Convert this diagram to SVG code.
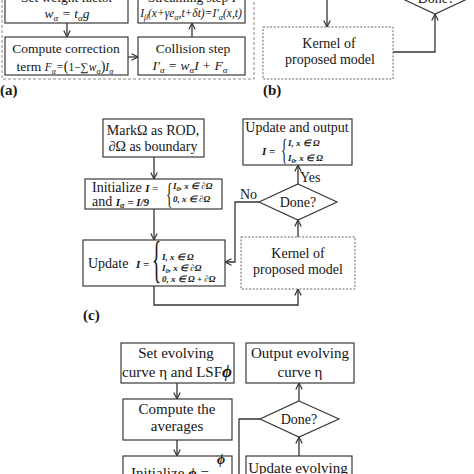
<svg xmlns="http://www.w3.org/2000/svg" width="474" height="474" viewBox="0 0 474 474">
<style>
.bx{fill:#fff;stroke:#3a3a3a;stroke-width:1.2}
.dt{fill:#fff;stroke:#666;stroke-width:1;stroke-dasharray:2 1.6}
.fr{fill:none;stroke:#8a8a8a;stroke-width:1;stroke-dasharray:3 2}
.cn{fill:none;stroke:#333;stroke-width:1.3}
text{font-family:"Liberation Serif","Times New Roman",serif;fill:#161616}
.c{text-anchor:middle}
.a{font-size:13.5px}
.n{font-size:14px}
.d{font-size:15px}
.i{font-style:italic}
.m{font-style:italic;font-weight:bold}
.s{font-size:9px;font-style:italic;font-weight:bold}
.lb{font-size:15px;font-weight:bold}
</style>
<defs>
<marker id="ar" viewBox="0 0 8 8" refX="7.5" refY="4" markerWidth="8" markerHeight="8" markerUnits="userSpaceOnUse" orient="auto">
<path d="M1,0.8 L7.5,4 L1,7.2" fill="none" stroke="#333" stroke-width="1.2"/>
</marker>
</defs>
<rect width="474" height="474" fill="#fff"/>

<!-- (a) frame -->
<rect class="fr" x="2" y="-6" width="252" height="85"/>

<g id="conn" class="cn">
<path d="M67,23 V37" marker-end="url(#ar)"/>
<path d="M128,57 H138" marker-end="url(#ar)"/>
<path d="M192,37 V23" marker-end="url(#ar)"/>
<path d="M327,0 V27" marker-end="url(#ar)"/>
<path d="M393,52 H435 V14" marker-end="url(#ar)"/>
<path d="M154,157 V179" marker-end="url(#ar)"/>
<path d="M154,209 V240" marker-end="url(#ar)"/>
<path d="M154,286 V305 H298 V289" marker-end="url(#ar)"/>
<path d="M298,237 V220" marker-end="url(#ar)"/>
<path d="M298,184 V165" marker-end="url(#ar)"/>
<path d="M259,202 H235 V262 H225" marker-end="url(#ar)"/>
<path d="M177,383 V399" marker-end="url(#ar)"/>
<path d="M177,440 V456" marker-end="url(#ar)"/>
<path d="M299,401 V383" marker-end="url(#ar)"/>
<path d="M299,456 V437" marker-end="url(#ar)"/>
<path d="M260,419 H239 V480"/>
</g>

<!-- (a) -->
<g id="a_weight">
<rect class="bx" x="5" y="-10" width="123" height="33"/>
<text class="a c" x="67" y="2">Set weight factor</text>
<text class="a c i" x="67" y="18">w<tspan font-size="9" dy="3">α</tspan><tspan dy="-3"> =</tspan> t<tspan font-size="9" dy="3">α</tspan><tspan dy="-3">g</tspan></text>
</g>
<g id="a_stream">
<rect class="bx" x="138" y="-10" width="107" height="33"/>
<text class="a c" x="192" y="2">Streaming step <tspan class="i">I</tspan></text>
<text class="c i" font-size="11.5" x="191" y="17">I<tspan font-size="8" dy="2.5">β</tspan><tspan dy="-2.5">(x+γe</tspan><tspan font-size="8" dy="2.5">α</tspan><tspan dy="-2.5">,t+δt)=I′</tspan><tspan font-size="8" dy="2.5">α</tspan><tspan dy="-2.5">(x,t)</tspan></text>
</g>
<g id="a_corr">
<rect class="bx" x="5" y="37" width="123" height="38"/>
<text class="a c" x="66" y="53">Compute correction</text>
<text class="c" font-size="11.5" x="65" y="71"><tspan font-size="13.5">term </tspan><tspan class="i">F<tspan font-size="8" dy="2.5">α</tspan><tspan dy="-2.5">=</tspan></tspan><tspan font-size="14">(</tspan>1−∑<tspan class="i">w<tspan font-size="8" dy="2.5">α</tspan></tspan><tspan font-size="14" dy="-2.5">)</tspan><tspan class="i">I<tspan font-size="8" dy="2.5">α</tspan></tspan></text>
</g>
<g id="a_coll">
<rect class="bx" x="138" y="37" width="107" height="38"/>
<text class="a c" x="193" y="53">Collision step</text>
<text class="a c i" x="190" y="70">I′<tspan font-size="9" dy="3">α</tspan><tspan dy="-3"> = w</tspan><tspan font-size="9" dy="3">α</tspan><tspan dy="-3">I + F</tspan><tspan font-size="9" dy="3">α</tspan></text>
</g>
<text class="lb" x="0" y="95">(a)</text>

<!-- (b) -->
<g id="b_kernel">
<rect class="dt" x="263" y="27" width="130" height="52"/>
<text class="n c" x="329" y="48">Kernel of</text>
<text class="n c" x="330" y="64">proposed model</text>
</g>
<g id="b_done">
<polygon class="bx" points="435,-14 465,0 435,14 405,0"/>
<text class="n c" x="436" y="3">Done?</text>
</g>
<text class="lb" x="263" y="95">(b)</text>

<!-- (c) -->
<g id="c_mark">
<rect class="bx" x="103" y="119" width="101" height="38"/>
<text class="n c" x="153" y="135">MarkΩ as ROD,</text>
<text class="n c" x="153" y="151"><tspan class="i">∂</tspan>Ω as boundary</text>
</g>
<g id="c_init">
<rect class="bx" x="85" y="179" width="137" height="30"/>
<text class="n" x="92" y="192">Initialize <tspan class="m" font-size="11">I</tspan><tspan font-size="11"> =</tspan></text>
<text font-size="30" transform="translate(166,202.5) scale(0.45,1)">{</text>
<text class="s" x="173" y="189">I<tspan font-size="6.5" dy="2">0</tspan><tspan dy="-2">, x ∈ ∂Ω</tspan></text>
<text class="s" x="173" y="202">0, x ∈ ∂Ω</text>
<text class="n" x="92" y="206">and <tspan class="m" font-size="11">I<tspan font-size="8" dy="2">α</tspan><tspan dy="-2"> = I/9</tspan></tspan></text>
</g>
<g id="c_update">
<rect class="bx" x="83" y="240" width="142" height="46"/>
<text class="n" x="88" y="268">Update</text>
<text class="m" font-size="11" x="136" y="268">I =</text>
<text font-size="50" transform="translate(152,276) scale(0.38,1)">{</text>
<text class="s" x="162" y="260">I, x ∈ Ω</text>
<text class="s" x="162" y="271">I<tspan font-size="6.5" dy="2">0</tspan><tspan dy="-2">, x ∈ ∂Ω</tspan></text>
<text class="s" x="162" y="282">0, x ∈ Ω + ∂Ω</text>
</g>
<g id="c_out">
<rect class="bx" x="243" y="119" width="109" height="46"/>
<text class="n c" x="297" y="132">Update and output</text>
<text class="m" font-size="11" x="262" y="155">I =</text>
<text font-size="29" transform="translate(281,159) scale(0.45,1)">{</text>
<text class="s" x="288" y="146">I, x ∈ Ω</text>
<text class="s" x="288" y="161">I<tspan font-size="6.5" dy="2">0</tspan><tspan dy="-2">, x ∈ Ω</tspan></text>
</g>
<g id="c_done">
<polygon class="bx" points="298,184 337,202 298,220 259,202"/>
<text class="n c" x="298" y="207">Done?</text>
</g>
<text class="n" x="240" y="199">No</text>
<text class="n" x="300" y="182">Yes</text>
<g id="c_kernel">
<rect class="dt" x="241" y="237" width="114" height="52"/>
<text class="n c" x="298" y="258">Kernel of</text>
<text class="n c" x="298" y="274">proposed model</text>
</g>
<text class="lb" x="83" y="320">(c)</text>

<!-- (d) -->
<g id="d_set">
<rect class="bx" x="121" y="343" width="113" height="40"/>
<text class="d c" x="176" y="358">Set evolving</text>
<text class="d c" x="177" y="377">curve η and LSF<tspan class="m" font-size="17">ϕ</tspan></text>
</g>
<g id="d_avg">
<rect class="bx" x="123" y="399" width="109" height="41"/>
<text class="d c" x="177" y="414">Compute the</text>
<text class="d c" x="177" y="431">averages</text>
</g>
<g id="d_init">
<rect class="bx" x="123" y="456" width="109" height="30"/>
<text class="d" x="131" y="478">Initialize <tspan class="m">ϕ</tspan> =</text>
<text class="m" font-size="14" x="217" y="464">ϕ</text>
</g>
<g id="d_out">
<rect class="bx" x="246" y="343" width="108" height="40"/>
<text class="d c" x="300" y="358">Output evolving</text>
<text class="d c" x="300" y="377">curve η</text>
</g>
<g id="d_done">
<polygon class="bx" points="299,401 339,419 299,437 260,419"/>
<text class="n c" x="299" y="424">Done?</text>
</g>
<g id="d_upd">
<rect class="bx" x="246" y="456" width="106" height="30"/>
<text class="d c" x="298" y="473">Update evolving</text>
</g>
</svg>
